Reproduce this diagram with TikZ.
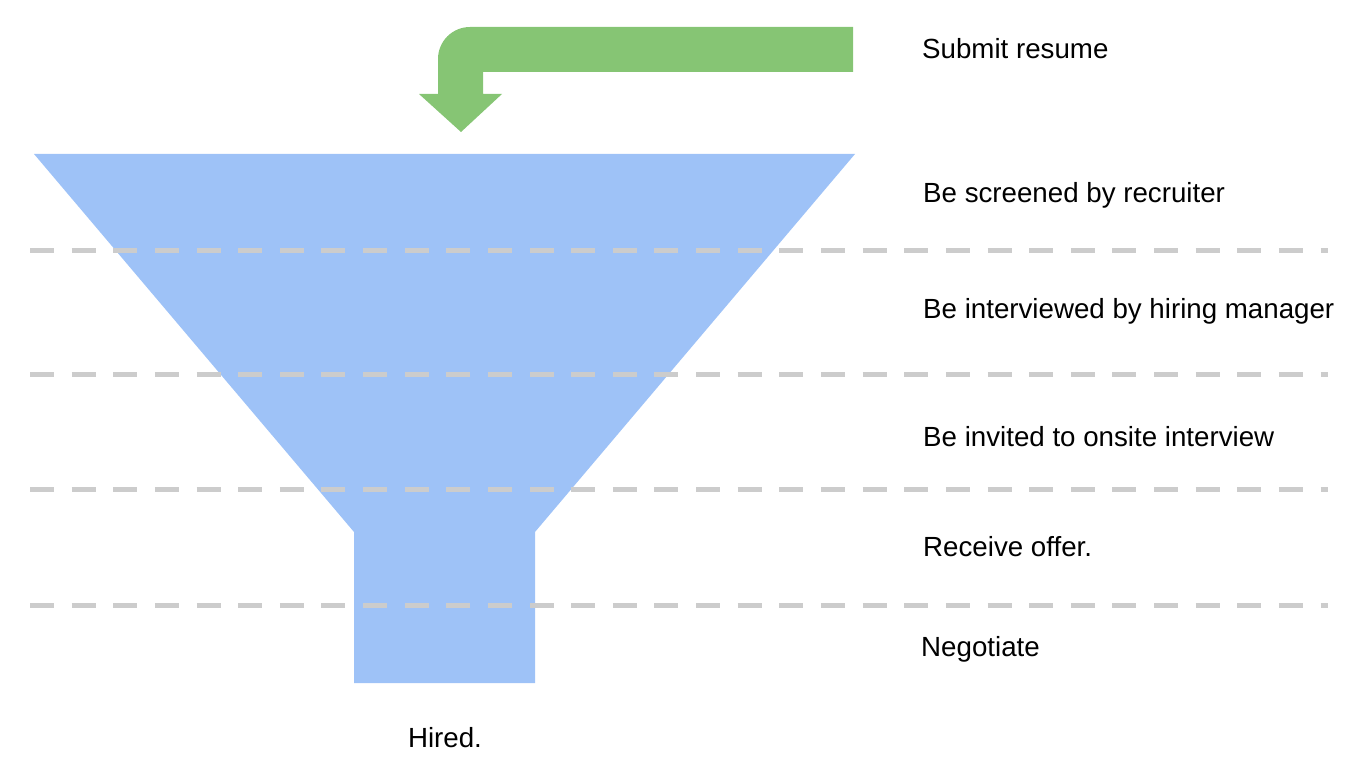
\documentclass[tikz,border=0pt]{standalone}
\usepackage{fontspec}
\setmainfont{Liberation Sans}
\definecolor{funnelblue}{HTML}{9EC2F7}
\definecolor{arrowgreen}{HTML}{86C574}
\definecolor{dashgray}{HTML}{CCCCCC}
\begin{document}
\begin{tikzpicture}[x=1pt,y=-1pt,
  lbl/.style={inner sep=0pt,anchor=base west,font=\fontsize{27.7}{33}\selectfont},
  sep/.style={draw=dashgray,line width=5pt,dash pattern=on 24pt off 17.63pt}]
\useasboundingbox (0,0) rectangle (1358,765);
% funnel
\fill[funnelblue] (34,154) -- (855,154) -- (535,532) -- (535,683) -- (354,683) -- (354,532) -- cycle;
% separators
\foreach \yy/\nm in {250/s1,374/s2,489/s3,605/s4}{
  \coordinate (\nm a) at (30,\yy);
  \coordinate (\nm b) at (1328,\yy);
  \draw[sep] (\nm a) -- (\nm b);
}
% arrow
\fill[arrowgreen] (853,27) -- (470,27) .. controls (452.3,27) and (438,41.3) .. (438,59)
  -- (438,94) -- (419,94) -- (461,132) -- (502,94) -- (483,94) -- (483,72) -- (853,72) -- cycle;
% labels
\node[lbl] (t1) at (922,58.5) {Submit resume};
\node[lbl] (t2) at (923,202.5) {Be screened by recruiter};
\node[lbl] (t3) at (923,318.5) {Be interviewed by hiring manager};
\node[lbl] (t4) at (923,446.5) {Be invited to onsite interview};
\node[lbl] (t5) at (923,556.5) {Receive offer.};
\node[lbl] (t6) at (921,656.5) {Negotiate};
\node[lbl,anchor=base] (t7) at (445,747) {Hired.};
\end{tikzpicture}
\end{document}
